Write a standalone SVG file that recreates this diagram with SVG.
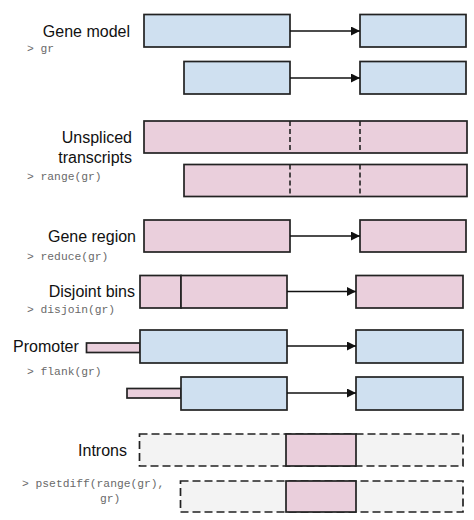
<svg xmlns="http://www.w3.org/2000/svg" width="474" height="520" viewBox="0 0 474 520">
<defs>
<marker id="ah" viewBox="0 0 10 10" refX="10" refY="5" markerWidth="10" markerHeight="9" markerUnits="userSpaceOnUse" orient="auto">
<path d="M0,0 L10,5 L0,10 z" fill="#111"/>
</marker>
<style>
.blue{fill:#cfe0f0;stroke:#222;stroke-width:1.7}
.pink{fill:#eacfdc;stroke:#222;stroke-width:1.7}
.gray{fill:#f3f3f3;stroke:#222;stroke-width:1.7;stroke-dasharray:8,4}
.div{stroke:#222;stroke-width:1.6;stroke-dasharray:5,3;fill:none}
.lbl{font-family:"Liberation Sans",Arial,sans-serif;font-size:16px;fill:#111}
.code{font-family:"Liberation Mono","Courier New",monospace;font-size:11.3px;fill:#6a6a6a}
.conn line{stroke:#111;stroke-width:1.3;marker-end:url(#ah)}
</style>
</defs>
<rect width="474" height="520" fill="#fff"/>

<g id="gene-model">
<text class="lbl" x="130" y="37" text-anchor="end">Gene model</text>
<text class="code" x="27" y="52">&gt; gr</text>
<rect class="blue" x="144" y="14.5" width="146" height="32.5"/>
<rect class="blue" x="360" y="14.5" width="106" height="32.5"/>
<rect class="blue" x="184" y="61.5" width="106" height="32.5"/>
<rect class="blue" x="360" y="61.5" width="106" height="32.5"/>
</g>

<g id="unspliced">
<text class="lbl" x="132" y="143" text-anchor="end">Unspliced</text>
<text class="lbl" x="132" y="163" text-anchor="end">transcripts</text>
<text class="code" x="27" y="180">&gt; range(gr)</text>
<rect class="pink" x="144" y="121" width="323" height="32"/>
<line class="div" x1="290" y1="121" x2="290" y2="153"/>
<line class="div" x1="360" y1="121" x2="360" y2="153"/>
<rect class="pink" x="184" y="164.5" width="283" height="32"/>
<line class="div" x1="290" y1="164.5" x2="290" y2="196.5"/>
<line class="div" x1="360" y1="164.5" x2="360" y2="196.5"/>
</g>

<g id="gene-region">
<text class="lbl" x="136" y="242" text-anchor="end">Gene region</text>
<text class="code" x="27" y="260">&gt; reduce(gr)</text>
<rect class="pink" x="144" y="220" width="146" height="32"/>
<rect class="pink" x="360" y="220" width="106" height="32"/>
</g>

<g id="disjoint-bins">
<text class="lbl" x="135" y="297" text-anchor="end">Disjoint bins</text>
<text class="code" x="27" y="313">&gt; disjoin(gr)</text>
<rect class="pink" x="140" y="275.5" width="41" height="32.5"/>
<rect class="pink" x="181" y="275.5" width="106" height="32.5"/>
<rect class="pink" x="356" y="275.5" width="107" height="32.5"/>
</g>

<g id="promoter">
<text class="lbl" x="13" y="352">Promoter</text>
<text class="code" x="27" y="375">&gt; flank(gr)</text>
<rect class="pink" x="86.5" y="343" width="53.5" height="9.5"/>
<rect class="blue" x="140" y="330" width="147" height="33"/>
<rect class="blue" x="356" y="330" width="107" height="33"/>
<rect class="pink" x="127" y="388.5" width="54" height="9.5"/>
<rect class="blue" x="181" y="377" width="106" height="33"/>
<rect class="blue" x="356" y="377" width="107" height="33"/>
</g>

<g id="introns">
<text class="lbl" x="127" y="456" text-anchor="end">Introns</text>
<text class="code" x="22" y="487">&gt; psetdiff(range(gr),</text>
<text class="code" x="100" y="502">gr)</text>
<rect class="gray" x="139.5" y="434" width="323.5" height="32"/>
<rect class="pink" x="286" y="434" width="70" height="32"/>
<rect class="gray" x="180.5" y="481" width="282.5" height="31"/>
<rect class="pink" x="286" y="481" width="70" height="31"/>
</g>

<g id="connectors" class="conn">
<line x1="290" y1="31" x2="360" y2="31"/>
<line x1="290" y1="78" x2="360" y2="78"/>
<line x1="290" y1="236" x2="360" y2="236"/>
<line x1="287" y1="291.5" x2="356" y2="291.5"/>
<line x1="287" y1="346" x2="356" y2="346"/>
<line x1="287" y1="393" x2="356" y2="393"/>
</g>
</svg>
